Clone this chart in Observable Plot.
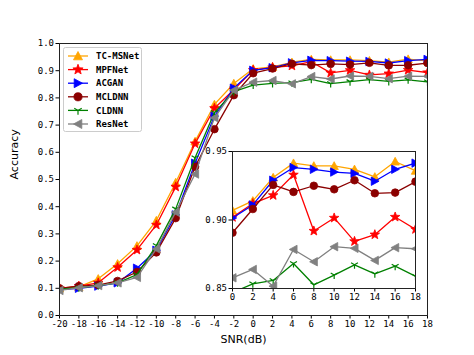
<!DOCTYPE html>
<html><head><meta charset="utf-8">
<script src="https://cdn.jsdelivr.net/npm/d3@7"></script>
<script src="https://cdn.jsdelivr.net/npm/@observablehq/plot@0.6"></script>
<style>
body{margin:0;background:#fff}
#wrap{position:relative;width:474px;height:355px;overflow:hidden}
#wrap svg{position:absolute}
</style></head><body><div id="wrap"></div>
<script>
const snr = [-20,-18,-16,-14,-12,-10,-8,-6,-4,-2,0,2,4,6,8,10,12,14,16,18];
const tcMsNet = [0.100,0.105,0.135,0.190,0.256,0.349,0.489,0.640,0.776,0.853,0.907,0.914,0.931,0.9415,0.9395,0.9395,0.937,0.9315,0.9427,0.936];
const mpfNet  = [0.100,0.108,0.120,0.177,0.241,0.333,0.473,0.632,0.762,0.830,0.902,0.912,0.918,0.933,0.892,0.9015,0.8844,0.8893,0.9022,0.8932];
const acgan   = [0.095,0.100,0.108,0.120,0.174,0.240,0.370,0.560,0.733,0.836,0.9015,0.911,0.929,0.9383,0.937,0.935,0.934,0.9283,0.937,0.9415];
const mcldnn  = [0.100,0.108,0.112,0.127,0.160,0.232,0.358,0.547,0.685,0.810,0.8907,0.908,0.9256,0.9205,0.925,0.9224,0.929,0.9195,0.920,0.928];
const cldnn   = [0.097,0.102,0.110,0.120,0.150,0.257,0.392,0.580,0.746,0.823,0.847,0.8534,0.8559,0.8683,0.8527,0.8598,0.8673,0.8607,0.8663,0.859];
const resNet  = [0.092,0.102,0.110,0.120,0.140,0.245,0.380,0.520,0.727,0.828,0.8578,0.8639,0.8517,0.8785,0.8695,0.8805,0.8793,0.8705,0.8798,0.879];
const modelNames = ["TC-MSNet","MPFNet","ACGAN","MCLDNN","CLDNN","ResNet"];
const modelColors = ["#FFA500","#FF0000","#0000FF","#8B0000","#008000","#808080"];
const xTicks = [-20,-18,-16,-14,-12,-10,-8,-6,-4,-2,0,2,4,6,8,10,12,14,16,18];
const yTicks = [0,0.1,0.2,0.3,0.4,0.5,0.6,0.7,0.8,0.9,1.0];
const insetXTicks = [0,2,4,6,8,10,12,14,16,18];
const insetYTicks = [0.85,0.90,0.95];

const rad = s => Math.sqrt(s/Math.PI);
const triUp = {draw(c,s){const r=rad(s);c.moveTo(0,-r);c.lineTo(r,r*0.85);c.lineTo(-r,r*0.85);c.closePath();}};
const triRight = {draw(c,s){const r=rad(s);c.moveTo(r,0);c.lineTo(-r*0.85,-r);c.lineTo(-r*0.85,r);c.closePath();}};
const triLeft = {draw(c,s){const r=rad(s);c.moveTo(-r,0);c.lineTo(r*0.85,-r);c.lineTo(r*0.85,r);c.closePath();}};
const star = {draw(c,s){const R=rad(s),ri=R*0.42;for(let i=0;i<10;i++){const a=-Math.PI/2+i*Math.PI/5,rr=i%2?ri:R;const px=rr*Math.cos(a),py=rr*Math.sin(a);i?c.lineTo(px,py):c.moveTo(px,py);}c.closePath();}};
const circ = {draw(c,s){const r=rad(s);c.moveTo(r,0);c.arc(0,0,r,0,2*Math.PI);}};
const triDown = {draw(c,s){const r=rad(s);c.moveTo(0,0);c.lineTo(0,r);c.moveTo(0,0);c.lineTo(-0.866*r,-0.5*r);c.moveTo(0,0);c.lineTo(0.866*r,-0.5*r);}};
const symbols = [triUp, star, triRight, circ, triDown, triLeft];
const symR = [4.2, 5, 4.2, 3.8, 4, 4.2];
const filled = [true,true,true,true,false,true];

const seriesValues = [tcMsNet, mpfNet, acgan, mcldnn, cldnn, resNet];
const series = modelNames.map((name,i)=>({name, color:modelColors[i], sym:symbols[i], r:symR[i], filled:filled[i],
  rows: snr.map((s,j)=>({snr:s, acc:seriesValues[i][j]}))}));

function seriesMarks(filterFn, clip){
  const m=[];
  for(const s of series){
    const rows = s.rows.filter(filterFn);
    m.push(Plot.line(rows,{x:"snr",y:"acc",stroke:s.color,strokeWidth:1.3,clip}));
    m.push(Plot.dot(rows,{x:"snr",y:"acc",symbol:s.sym,r:s.r,fill:s.filled?s.color:"none",stroke:s.color,strokeWidth:s.filled?0.8:1.2,clip}));
  }
  return m;
}

const wrap = document.getElementById("wrap");
const monoFont = "DejaVu Sans Mono";
const main = Plot.plot({
  width:474, height:355, marginLeft:59, marginRight:47, marginTop:43, marginBottom:40,
  style:{background:"transparent", fontFamily:monoFont, fontSize:"9px", color:"#000"},
  x:{domain:[-20,18]}, y:{domain:[0,1]},
  marks:[
    Plot.axisX({ticks:xTicks, tickSize:3.5, tickPadding:2, tickFormat:d=>String(d), label:null}),
    Plot.axisY({ticks:yTicks, tickSize:3.5, tickPadding:2, tickFormat:d3.format(".1f"), label:null}),
    ...seriesMarks(()=>true, true),
    Plot.frame({stroke:"#222"}),
    Plot.text(["SNR(dB)"],{frameAnchor:"bottom", dy:27, text:d=>d, fontFamily:"DejaVu Sans", fontSize:11}),
    Plot.text(["Accuracy"],{frameAnchor:"left", dx:-45, rotate:-90, text:d=>d, fontFamily:"DejaVu Sans", fontSize:11})
  ]
});
main.style.left="0px"; main.style.top="0px";
wrap.appendChild(main);

const inset = Plot.plot({
  width:223, height:165, marginLeft:30, marginRight:10, marginTop:10, marginBottom:18,
  style:{background:"transparent", fontFamily:monoFont, fontSize:"9px", color:"#000"},
  x:{domain:[0,18]}, y:{domain:[0.85,0.95]},
  marks:[
    Plot.frame({fill:"white"}),
    Plot.axisX({ticks:insetXTicks, tickSize:3.5, tickPadding:2, tickFormat:d=>String(d), label:null}),
    Plot.axisY({ticks:insetYTicks, tickSize:3.5, tickPadding:2, tickFormat:d3.format(".2f"), label:null}),
    ...seriesMarks(d=>d.snr>=0, true),
    Plot.frame({stroke:"#222"})
  ]
});
inset.style.left="202px"; inset.style.top="141px";
wrap.appendChild(inset);

// legend
const lg = d3.select(wrap).append("svg").attr("width",80).attr("height",86)
  .style("left","63px").style("top","47px");
lg.append("rect").attr("x",0.5).attr("y",0.5).attr("width",78).attr("height",84).attr("rx",2)
  .attr("fill","white").attr("stroke","#ccc");
series.forEach((s,i)=>{
  const y = 9 + i*13.6;
  const g = lg.append("g");
  g.append("line").attr("x1",5).attr("x2",25).attr("y1",y).attr("y2",y).attr("stroke",s.color).attr("stroke-width",1.3);
  g.append("path").attr("transform",`translate(15,${y})`).attr("d",d3.symbol(s.sym, s.r*s.r*Math.PI*1.15)())
    .attr("fill",s.filled?s.color:"none").attr("stroke",s.color).attr("stroke-width",s.filled?0.8:1.2);
  g.append("text").attr("x",33).attr("y",y).attr("dy","0.35em").attr("font-family",monoFont).attr("font-size",9)
    .attr("font-weight","bold").text(s.name);
});
</script></body></html>
